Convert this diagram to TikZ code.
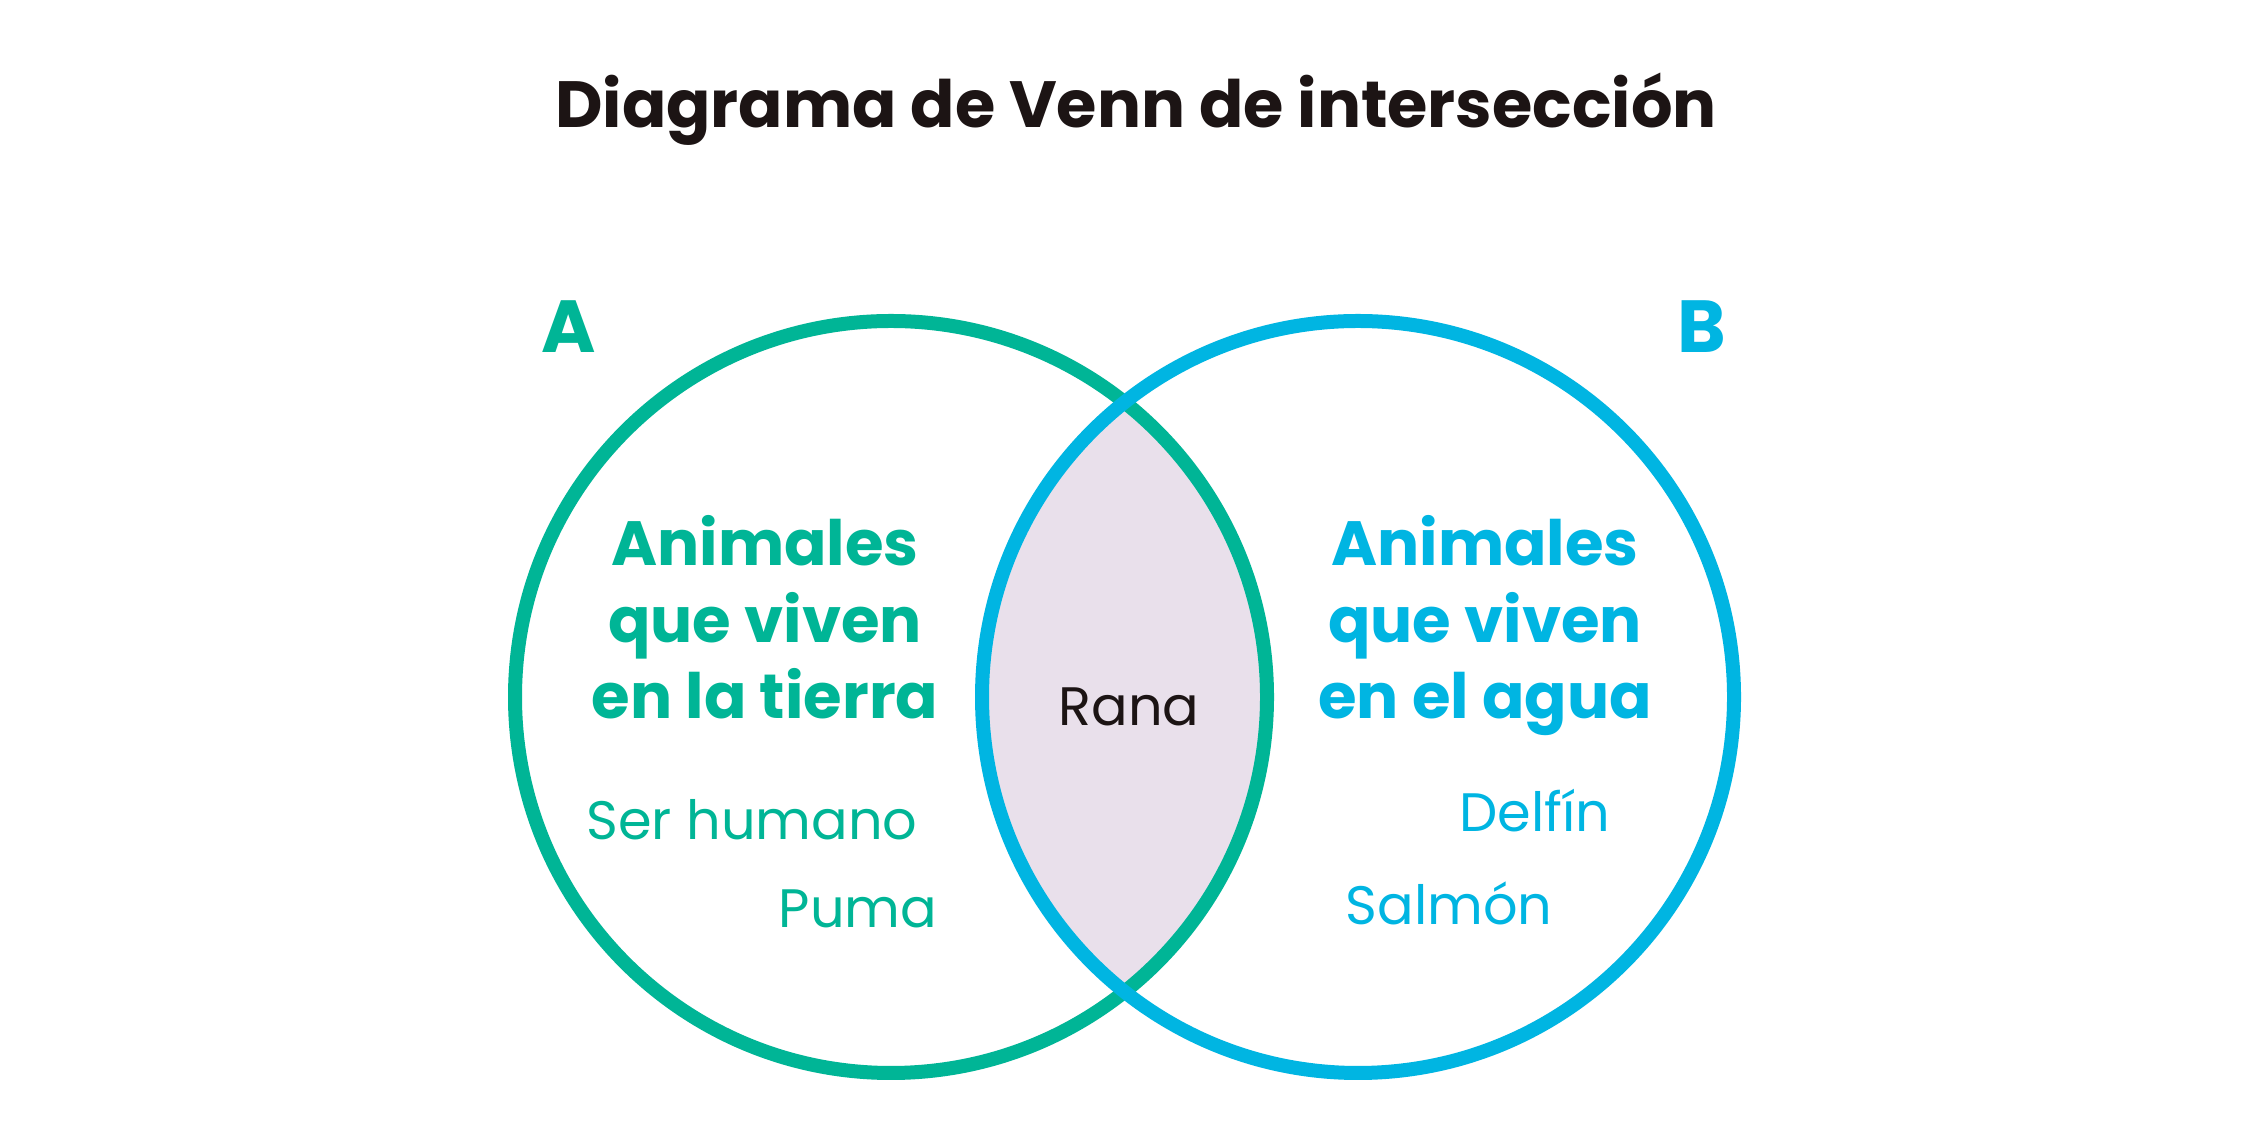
\documentclass[tikz,border=0pt]{standalone}
\usepackage{fontspec}
\setmainfont{Poppins}
\definecolor{tierra}{RGB}{0,181,150}
\definecolor{agua}{RGB}{0,181,226}
\definecolor{lente}{RGB}{233,224,235}
\definecolor{tinta}{RGB}{28,20,20}
\begin{document}
\begin{tikzpicture}[x=0.1mm, y=0.1mm,
    conjunto/.style={line width=1.4mm},
    titulo/.style={font=\bfseries\fontsize{18.6}{22}\selectfont, text=tinta, inner sep=0pt},
    letra/.style={font=\bfseries\fontsize{21}{24}\selectfont, inner sep=0pt},
    rotulo/.style={font=\bfseries\fontsize{17.8}{21.9}\selectfont, align=center, inner sep=0pt},
    elemento/.style={font=\fontsize{15.4}{18}\selectfont, inner sep=0pt}]
  \path[use as bounding box, fill=white] (0,0) rectangle (2268,1134);
  % interseccion
  \begin{scope}
    \clip (891,437) circle (376);
    \fill[lente] (1358,437) circle (376);
  \end{scope}
  \draw[conjunto, tierra] (891,437) circle (376);
  \draw[conjunto, agua] (1358,437) circle (376);
  \node[titulo, anchor=base] (titulo) at (1136,1006) {Diagrama de Venn de intersección};
  \node[letra, text=tierra, anchor=base] (letraA) at (569,781) {A};
  \node[letra, text=agua, anchor=base] (letraB) at (1702,781) {B};
  \node[rotulo, text=tierra, anchor=base] (tierra) at (765,415) {Animales\\que viven\\en la tierra};
  \node[rotulo, text=agua, anchor=base] (agua) at (1485,415) {Animales\\que viven\\en el agua};
  \node[elemento, text=tinta, anchor=base] (rana) at (1129,408) {Rana};
  \node[elemento, text=tierra, anchor=base] (humano) at (752,294) {Ser humano};
  \node[elemento, text=tierra, anchor=base] (puma) at (858,206) {Puma};
  \node[elemento, text=agua, anchor=base] (delfin) at (1535,302) {Delfín};
  \node[elemento, text=agua, anchor=base] (salmon) at (1449,209) {Salmón};
\end{tikzpicture}
\end{document}
